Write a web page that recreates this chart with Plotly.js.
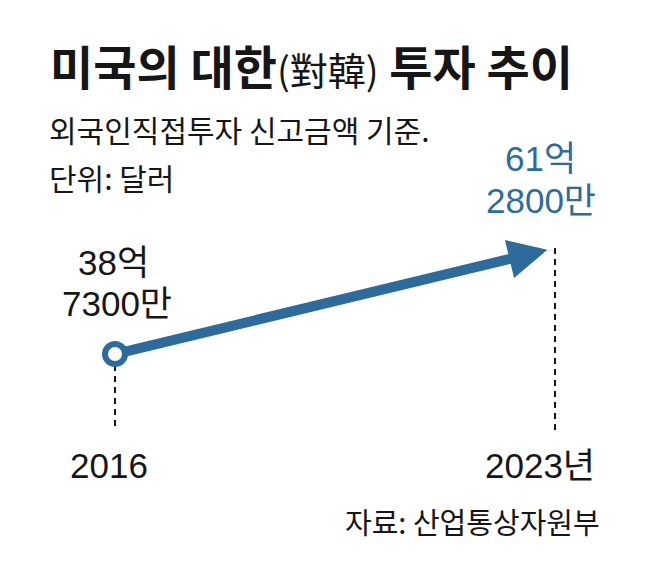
<!DOCTYPE html>
<html>
<head>
<meta charset="utf-8">
<script src="https://cdn.plot.ly/plotly-3.0.1.min.js"></script>
<style>html,body{margin:0;padding:0;background:#fff;}#chart{width:658px;height:571px;}</style>
</head>
<body>
<div id="chart"></div>
<script>
// ---- data ----
const years = [2016, 2023];
const values = [38.73, 61.28];            // 억 달러
const labelTop = ['38억', '61억'];
const labelBottom = ['7300만', '2800만'];
const tickLabels = ['2016', '2023년'];
const titleMain = '미국의 대한';
const titleHanja = '(對韓)';
const titleRest = ' 투자 추이';
const subtitle1 = '외국인직접투자 신고금액 기준.';
const subtitle2 = '단위: 달러';
const source = '자료: 산업통상자원부';

// ---- style ----
const BLUE = '#2e6b9d';
const INK = '#161616';
const FONT = '"Noto Sans CJK KR", "Noto Sans", sans-serif';
const NUMFONT = '"Liberation Sans", "Noto Sans CJK KR", sans-serif';
const dropTo = 22.35;  // where the dashed guide lines end (axis units)

const traces = [];
// dashed guides
years.forEach((yr, i) => {
  traces.push({
    x: [yr, yr], y: [values[i], dropTo], mode: 'lines',
    line: {color: INK, width: 2, dash: '6px,5px'},
    hoverinfo: 'skip', showlegend: false
  });
});
// start marker (open circle)
traces.push({
  x: [years[0]], y: [values[0]], mode: 'markers',
  marker: {symbol: 'circle', size: 20, color: '#ffffff', line: {color: BLUE, width: 6}},
  hoverinfo: 'skip', showlegend: false
});

const ann = [];
// arrow from first to last point
ann.push({
  x: years[1], y: values[1], xref: 'x', yref: 'y',
  ax: years[0], ay: values[0], axref: 'x', ayref: 'y',
  text: '', showarrow: true, arrowhead: 2, arrowsize: 0.78, arrowwidth: 10,
  arrowcolor: BLUE, standoff: 7.8, startstandoff: 10
});
// value labels
const labelCfg = [
  {color: INK, dxTop: -2, dxBot: 2, dyTop: 92, dyBot: 51},
  {color: BLUE, dxTop: -15, dxBot: -14, dyTop: 90, dyBot: 48}
];
years.forEach((yr, i) => {
  const c = labelCfg[i];
  ann.push({x: yr, y: values[i], xref: 'x', yref: 'y', text: labelTop[i], showarrow: false,
    xanchor: 'center', yanchor: 'middle', xshift: c.dxTop, yshift: c.dyTop,
    font: {family: NUMFONT, size: 35, color: c.color}});
  ann.push({x: yr, y: values[i], xref: 'x', yref: 'y', text: labelBottom[i], showarrow: false,
    xanchor: 'center', yanchor: 'middle', xshift: c.dxBot, yshift: c.dyBot,
    font: {family: NUMFONT, size: 35, color: c.color}});
});
// year labels
const yearShift = [-6, -15];
years.forEach((yr, i) => {
  ann.push({x: yr, y: 1 - 465/571, xref: 'x', yref: 'paper', text: tickLabels[i], showarrow: false,
    xanchor: 'center', yanchor: 'middle', xshift: yearShift[i],
    font: {family: NUMFONT, size: 35, color: INK}});
});
// titles
ann.push({x: 48/658, y: 1 - 65/571, xref: 'paper', yref: 'paper', xanchor: 'left', yanchor: 'middle', showarrow: false,
  text: titleMain + '<span style="font-size:38px;font-weight:normal">' + titleHanja + '</span>' + titleRest,
  font: {family: FONT, size: 47, color: INK, weight: 'bold'}});
ann.push({x: 47/658, y: 1 - 129/571, xref: 'paper', yref: 'paper', xanchor: 'left', yanchor: 'middle', showarrow: false,
  text: subtitle1, font: {family: FONT, size: 30, color: INK}});
ann.push({x: 47/658, y: 1 - 177/571, xref: 'paper', yref: 'paper', xanchor: 'left', yanchor: 'middle', showarrow: false,
  text: subtitle2, font: {family: FONT, size: 30, color: INK}});
ann.push({x: 602/658, y: 1 - 521/571, xref: 'paper', yref: 'paper', xanchor: 'right', yanchor: 'middle', showarrow: false,
  text: source, font: {family: FONT, size: 29, color: INK}});

const layout = {
  width: 658, height: 571,
  margin: {l: 0, r: 0, t: 0, b: 0},
  paper_bgcolor: '#ffffff', plot_bgcolor: '#ffffff',
  showlegend: false,
  xaxis: {range: [2014.1705, 2024.6386], visible: false, fixedrange: true},
  yaxis: {range: [-7.433, 114.038], visible: false, fixedrange: true},
  annotations: ann
};

Plotly.newPlot('chart', traces, layout, {staticPlot: true, displayModeBar: false});
</script>
</body>
</html>
